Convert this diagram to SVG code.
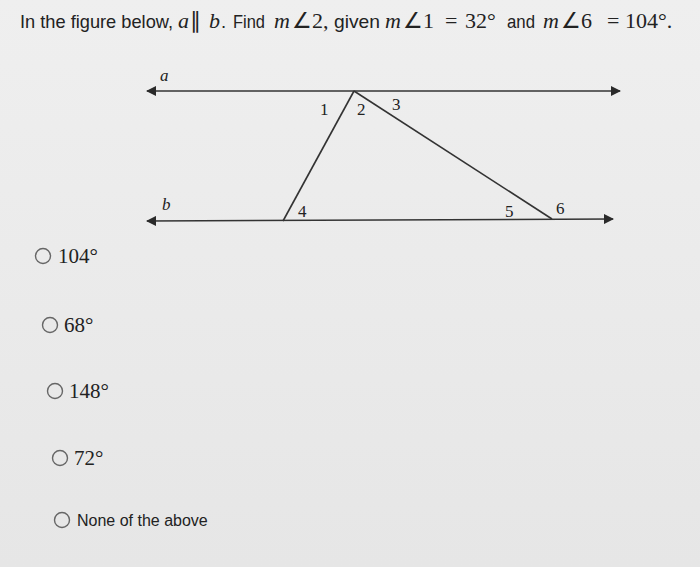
<svg xmlns="http://www.w3.org/2000/svg" width="700" height="567" viewBox="0 0 700 567">
<defs>
<marker id="arr" viewBox="0 0 10 10" refX="9" refY="5" markerWidth="10" markerHeight="10" markerUnits="userSpaceOnUse" orient="auto-start-reverse">
<path d="M0,0 L10,5 L0,10 z" fill="#2a2a2a"/>
</marker>
<linearGradient id="bg" x1="0" y1="0" x2="0" y2="1">
<stop offset="0" stop-color="#efefef"/>
<stop offset="1" stop-color="#e6e6e6"/>
</linearGradient>
</defs>
<style>
.sans{font-family:"Liberation Sans",Arial,sans-serif;fill:#222}
.ser{font-family:"Liberation Serif","Times New Roman",serif;fill:#222}
.it{font-style:italic}
.m{font-family:"Liberation Serif","Times New Roman",serif;font-size:22px}
.ln{stroke:#333;stroke-width:1.6;fill:none}
.rad{fill:none;stroke:#666;stroke-width:1.4}
</style>
<rect width="700" height="567" fill="url(#bg)"/>
<g id="title" class="sans" font-size="18.5">
<text x="20" y="28" textLength="153" lengthAdjust="spacingAndGlyphs">In the figure below,</text>
<text x="178" y="28" class="m it">a</text>
<text x="190" y="28" class="m">∥</text>
<text x="209" y="28" class="m it">b</text>
<text x="221" y="28">.</text>
<text x="233" y="28" textLength="32" lengthAdjust="spacingAndGlyphs">Find</text>
<text x="274" y="28" class="m it">m</text>
<text x="292" y="28" class="m">∠2,</text>
<text x="334" y="28" textLength="46" lengthAdjust="spacingAndGlyphs">given</text>
<text x="385" y="28" class="m it">m</text>
<text x="403" y="28" class="m">∠1</text>
<text x="445" y="28" class="m">=</text>
<text x="465" y="28" class="m">32°</text>
<text x="507" y="28" textLength="28" lengthAdjust="spacingAndGlyphs">and</text>
<text x="543" y="28" class="m it">m</text>
<text x="561" y="28" class="m">∠6</text>
<text x="607" y="28" class="m">=</text>
<text x="625" y="28" class="m">104°.</text>
</g>
<g id="connectors">
<line class="ln" x1="147" y1="91" x2="620" y2="91" marker-start="url(#arr)" marker-end="url(#arr)"/>
<line class="ln" x1="147" y1="221" x2="613" y2="219" marker-start="url(#arr)" marker-end="url(#arr)"/>
<line class="ln" x1="354" y1="91" x2="283" y2="221"/>
<line class="ln" x1="354" y1="91" x2="552" y2="219"/>
</g>
<g id="labels" class="ser" font-size="17">
<text x="160" y="81" class="ser it">a</text>
<text x="162" y="210" class="ser it">b</text>
<text x="320" y="115">1</text>
<text x="357" y="115">2</text>
<text x="392" y="110">3</text>
<text x="298" y="217">4</text>
<text x="505" y="217">5</text>
<text x="556" y="214">6</text>
</g>
<g id="opt1"><circle class="rad" cx="43" cy="256" r="7.5"/><text x="58" y="263" class="ser" font-size="21">104°</text></g>
<g id="opt2"><circle class="rad" cx="50" cy="325" r="7.5"/><text x="64" y="332" class="ser" font-size="21">68°</text></g>
<g id="opt3"><circle class="rad" cx="55" cy="391" r="7.5"/><text x="69" y="398" class="ser" font-size="21">148°</text></g>
<g id="opt4"><circle class="rad" cx="60" cy="458" r="7.5"/><text x="74" y="465" class="ser" font-size="21">72°</text></g>
<g id="opt5"><circle class="rad" cx="62" cy="520" r="7.5"/><text x="77" y="526" class="sans" font-size="16">None of the above</text></g>
</svg>
